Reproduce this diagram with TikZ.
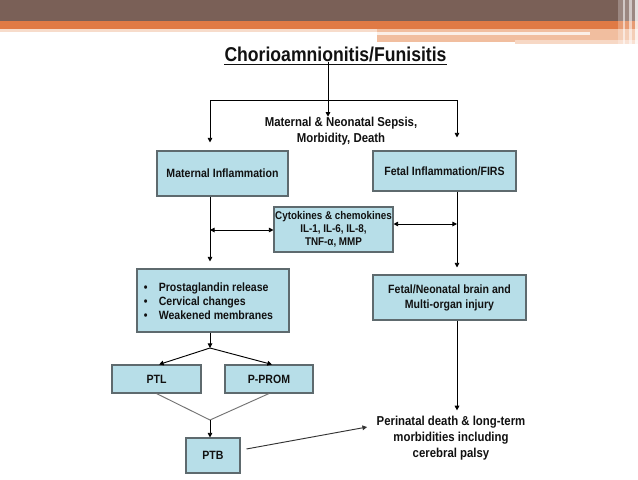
\documentclass[tikz,border=0pt]{standalone}
\usepackage{fontspec}
\setmainfont{Liberation Sans}[FakeStretch=0.88]
\usetikzlibrary{arrows.meta}
\definecolor{hdrbrown}{HTML}{7A6057}
\definecolor{hdrorange}{HTML}{E07A45}
\definecolor{hdrlight}{HTML}{F1BE9F}
\definecolor{hdrpale}{HTML}{F7DCCB}
\definecolor{boxfill}{HTML}{B7DEE8}
\definecolor{boxline}{HTML}{5E6A6E}
\definecolor{inktext}{HTML}{111111}
\begin{document}
\begin{tikzpicture}[x=0.75pt,y=-0.75pt,
  box/.style={draw=boxline, fill=boxfill, line width=0.8pt, inner sep=0pt, align=center, text=inktext,
    font=\bfseries\fontsize{9}{11.25}\selectfont},
  lbl/.style={inner sep=0pt, align=center, text=inktext, font=\bfseries\fontsize{9.7}{12}\selectfont},
  conn/.style={line width=0.7pt, draw=black},
  arr/.style={conn, -{Triangle[length=3.5pt,width=3.5pt]}},
  darr/.style={conn, {Triangle[length=3.5pt,width=3.5pt]}-{Triangle[length=3.5pt,width=3.5pt]}},
  gconn/.style={line width=0.7pt, draw=black!55}]
% canvas
\fill[white] (0,0) rectangle (638,479);
\useasboundingbox (0,0) rectangle (638,479);
% header bands
\fill[hdrbrown] (0,0) rectangle (638,21);
\fill[hdrorange] (0,21) rectangle (638,29);
\fill[hdrpale] (0,29) rectangle (377,32);
\fill[hdrlight] (377,29) rectangle (638,42);
\fill[white!75!hdrlight] (377,32) rectangle (590,35);
\fill[white!40!hdrlight] (515,40) rectangle (638,44);
% right-hand stripes
\fill[white,opacity=0.25] (618,0) rectangle (638,45);
\fill[white,opacity=0.55] (623,0) rectangle (625,45);
\fill[white,opacity=0.55] (629,0) rectangle (632,45);
\fill[white,opacity=0.75] (635,0) rectangle (638,45);
% title
\node[lbl, font=\bfseries\fontsize{15}{18}\selectfont, anchor=base] (title) at (335.5,61) {Chorioamnionitis/Funisitis};
\draw[line width=0.8pt, inktext] ([yshift=-2.6pt]title.base west) -- ([yshift=-2.6pt]title.base east);
% text nodes and boxes
\node[lbl] (sepsis) at (341,131) {Maternal \& Neonatal Sepsis,\\Morbidity, Death};
\node[box, minimum width=98.25pt, minimum height=33.75pt] (matinf) at (222.5,173.5) {Maternal Inflammation};
\node[box, minimum width=107.25pt, minimum height=30pt] (fetinf) at (444.5,171) {Fetal Inflammation/FIRS};
\node[box, minimum width=89.25pt, minimum height=33.75pt, font=\bfseries\fontsize{8.4}{9.75}\selectfont] (cyto) at (333.5,229.5) {Cytokines \& chemokines\\IL-1, IL-6, IL-8,\\TNF-α, MMP};
\node[box, minimum width=114pt, minimum height=47.25pt] (prost) at (213,300.5) {};
\node[anchor=west, inner sep=0pt, align=left, text=inktext, font=\bfseries\fontsize{9}{10.5}\selectfont] (prosttxt) at (143.5,301)
  {•\hspace{8.5pt}Prostaglandin release\\•\hspace{8.5pt}Cervical changes\\•\hspace{8.5pt}Weakened membranes};
\node[box, minimum width=114.75pt, minimum height=33.75pt] (fetneo) at (449.5,297.5) {Fetal/Neonatal brain and\\Multi-organ injury};
\node[box, minimum width=66.75pt, minimum height=21pt] (ptl) at (156.5,379) {PTL};
\node[box, minimum width=66pt, minimum height=21pt] (pprom) at (269,379) {P-PROM};
\node[box, minimum width=40.5pt, minimum height=26.25pt] (ptb) at (213,455.5) {PTB};
\node[lbl] (perin) at (451,438) {Perinatal death \& long-term\\morbidities including\\cerebral palsy};
% helper coordinates
\coordinate (top) at (328,100);
\coordinate (lx) at (210,0);
\coordinate (rx) at (457,0);
\coordinate (ml) at (210,230);
\coordinate (mr) at (457,224);
\coordinate (split) at (210,348);
\coordinate (merge) at (210,420);
% connectors
\draw[conn] (title.south -| top) -- (top);
\draw[arr] (top) -- (sepsis.north -| top);
\draw[arr, shorten >=6pt] (top) -| (matinf.north -| lx);
\draw[arr, shorten >=9.75pt] (top) -| (fetinf.north -| rx);
\draw[arr, shorten >=5.25pt] (matinf.south -| lx) -- (prost.north -| lx);
\draw[darr] (ml) -- (ml -| cyto.west);
\draw[darr] (cyto.east |- mr) -- (mr);
\draw[arr, shorten >=5.25pt] (fetinf.south -| rx) -- (fetneo.north -| rx);
\draw[arr, shorten >=4pt] (fetneo.south -| rx) -- (perin.north -| rx);
\draw[arr] (prost.south -| lx) -- (split);
\draw[arr] (split) -- ([xshift=1.9pt]ptl.north);
\draw[arr] (split) -- ([xshift=2.25pt]pprom.north);
\draw[gconn] (ptl.south) -- (merge) -- (pprom.south);
\draw[arr] (merge) -- (merge |- ptb.north);
\draw[arr, draw=black!80] ([xshift=4.5pt,yshift=4.9pt]ptb.east) -- ([xshift=-7pt,yshift=8.25pt]perin.west);
\end{tikzpicture}
\end{document}
